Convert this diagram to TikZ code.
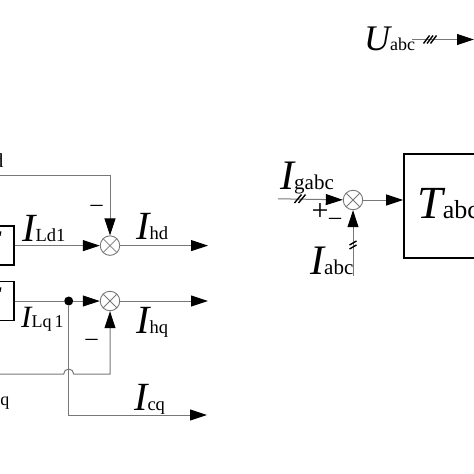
\documentclass[tikz,border=0pt]{standalone}
\usepackage{fontspec}
\setmainfont{Liberation Serif}
\usetikzlibrary{arrows.meta}
\definecolor{wiregray}{RGB}{120,120,120}
\newcommand\mylab[4]{{\fontsize{#1}{#1}\selectfont\itshape #3}{\fontsize{#2}{#2}\selectfont #4}}
\tikzset{
  wire/.style={draw=wiregray, line width=1pt},
  arr/.style={wire, -{Triangle[length=17pt,width=11pt,color=black]}},
  summer/.style={circle, draw=wiregray, line width=0.9pt, minimum size=19.5pt, inner sep=0pt,
    path picture={\draw[wiregray,line width=0.8pt]
      (path picture bounding box.center) ++(45:10pt) -- ++(225:20pt)
      (path picture bounding box.center) ++(135:10pt) -- ++(315:20pt);}},
  blk/.style={draw=black, line width=1.8pt, inner sep=0pt},
  jdot/.style={circle, fill=black, minimum size=9pt, inner sep=0pt},
  txt/.style={inner sep=0pt, anchor=base west},
  slash/.style={draw=black, line width=1.4pt},
  sgn/.style={inner sep=0pt, font=\fontsize{24}{24}\selectfont}
}
\begin{document}
\begin{tikzpicture}[x=1pt,y=-1pt]
\useasboundingbox (0,0) rectangle (474,474);

% ---------- left part ----------
\node[blk, minimum width=44pt, minimum height=39pt] (b1) at (-8,245.6) {};
\node[blk, minimum width=44pt, minimum height=39pt] (b2) at (-8,301) {};
\node[inner sep=0pt, anchor=north east, font=\fontsize{30}{30}\selectfont\itshape] (t1) at (0,232) {T};
\node[inner sep=0pt, anchor=north east, font=\fontsize{30}{30}\selectfont\itshape] (t2) at (0,287.5) {T};

\node[summer] (s1) at (110,245.6) {};
\node[summer] (s2) at (110,301) {};
\node[jdot] (j) at (68.7,301) {};

\coordinate (f1) at (0,175);
\coordinate (f2) at (0,374);
\coordinate (o1) at (208,245.6);
\coordinate (o2) at (208,301);
\coordinate (o3) at (207,415);

\draw[arr] (b1.east) -- (s1);
\draw[wire] (b2.east) -- (j);
\draw[arr] (j) -- (s2);
\draw[arr] (s1) -- (o1);
\draw[arr] (s2) -- (o2);
\draw[arr] (f1) -| (s1);
\draw[arr] (f2) -- (63.7,374) arc[start angle=180,end angle=0,radius=5pt] -- (110,374) -- (s2);
\draw[arr] (j) |- (o3);

\node[txt] (lLd1) at (22,241) {\mylab{40}{18.5}{I}{Ld1}};
\node[txt] (lhd) at (136,239) {\mylab{40}{18.5}{I}{hd}};
\node[txt] (lLq1) at (21,327) {\mylab{31}{18}{I}{Lq\,1}};
\node[txt] (lhq) at (136,333) {\mylab{40}{18.5}{I}{hq}};
\node[txt] (lcq) at (134,410) {\mylab{40}{18.5}{I}{cq}};
\node[sgn] (m1) at (96.5,208) {–};
\node[sgn] (m2) at (91.5,342) {–};
\node[inner sep=0pt, anchor=base east, font=\fontsize{20}{20}\selectfont] (fd) at (3.5,167) {d};
\node[inner sep=0pt, anchor=base east, font=\fontsize{18}{18}\selectfont] (fq) at (9.5,405) {q};

% ---------- right part ----------
\node[txt] (luabc) at (364,50) {\mylab{36}{18}{U}{abc}};
\coordinate (ul) at (412,39.5);
\coordinate (uo) at (474,39.5);
\draw[arr] (ul) -- (uo);
\foreach \dx in {-3.5,0,3.5}
  \draw[slash] (430+\dx-3,43.5) -- (430+\dx+3,35.5);

\node[summer] (s3) at (353,200) {};
\node[blk, minimum width=120pt, minimum height=104pt] (tb) at (464,206) {};
\node[txt] (ltabc) at (417,218) {\mylab{46}{26}{T}{abc}};

\coordinate (gi) at (278,198.8);
\coordinate (ai) at (353,276);
\draw[arr] (gi) -- (s3);
\draw[arr] (ai) -- (s3);
\draw[arr] (s3) -- (s3 -| tb.west);
\foreach \dx in {-2,2}
  \draw[slash] (300+\dx-3.5,203) -- (300+\dx+3.5,194.5);
\foreach \dy in {-2,2}
  \draw[slash] (349.5,245+\dy+2) -- (356.5,245+\dy-2);

\node[txt] (lgabc) at (280,189) {\mylab{42}{21}{I}{gabc}};
\node[txt] (labc) at (310,274) {\mylab{42}{21}{I}{abc}};
\node[inner sep=0pt, font=\fontsize{30}{30}\selectfont] (plus) at (320,212) {+};
\node[sgn] (m3) at (335,221) {–};
\end{tikzpicture}
\end{document}
